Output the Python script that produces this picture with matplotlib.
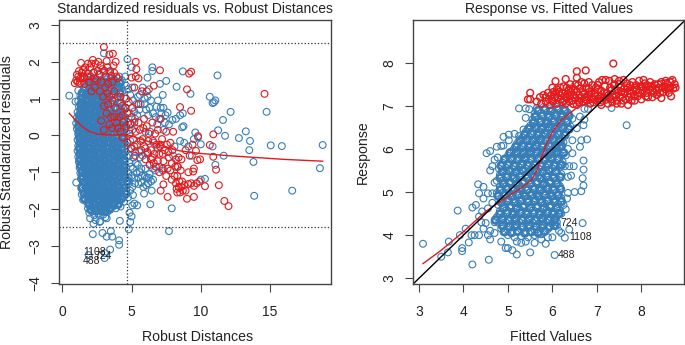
import numpy as np
import matplotlib
matplotlib.use('Agg')
import matplotlib.pyplot as plt

plt.rcParams['font.family'] = ['Liberation Sans', 'DejaVu Sans']

BLUE = '#377EB8'
RED = '#E41A1C'
EDGE = '#444444'

# left panel, points (the dense core is estimated)
left_blue = [
    (0.5,1.08),(1.0,-1.28),(18.8,-0.26),(18.6,-0.89),(16.6,-1.5),(15.85,-0.29),(15.05,-0.27),(14.75,0.64),
    (13.85,-1.64),(13.8,-0.72),(13.55,-0.15),(13.5,-0.4),(13.25,0.11),(12.75,-0.07),(11.75,-0.01),(11.65,-0.55),
    (12.15,0.64),(11.6,0.42),(11.25,0.14),(11.2,1.63),(11.05,0.95),(10.85,0.88),(10.95,0.9),(10.65,1.05),
    (11.05,-0.8),(10.85,-0.3),(10.3,-1.18),(10.0,-1.2),(10.0,-0.24),(9.6,0.08),(9.8,-0.05),(9.25,1.13),
    (8.7,1.74),(8.25,1.32),(8.75,0.25),(8.65,0.22),(8.5,0.55),(8.7,0.6),(7.9,-1.98),(7.7,-2.6),(7.5,1.48),
    (7.25,1.1),(7.05,1.4),(6.5,1.85),(6.5,1.75),(6.15,1.57),(6.35,-1.87),(5.9,-1.58),(5.4,-1.9),(5.2,-1.85),
    (5.05,-1.9),(4.8,-2.55),(4.85,-2.1),(4.9,-2.35),(5.0,-2.2),(4.15,-2.32),(4.1,-2.85),(4.1,-2.97),(3.5,-2.6),
    (3.6,-2.75),(3.2,-2.75),(2.9,-2.65),(2.2,-2.68),(3.45,-3.1),(3.1,-3.2),(3.05,-3.33),(1.9,-3.25),(2.25,-2.4),
    (2.7,-2.35),(3.2,-2.25),(4.7,2.07),(3.0,2.23),(5.0,1.85),
    (2.0,-2.25),(2.4,-2.3),(2.75,-2.33),(3.1,-2.22),(1.95,-2.1),(2.3,-2.17),(2.6,-2.12),(2.95,-2.15),(3.25,-2.08),
    (1.85,-1.98),(2.15,-1.93),(2.5,-1.99),(2.85,-1.94),(3.15,-1.97),(3.5,-1.95),(3.85,-1.98),(4.2,-1.93),
    (1.5,-1.75),(1.8,-1.82),(2.1,-1.78),(2.45,-1.81),(2.8,-1.77),(3.1,-1.83),(3.4,-1.78),(3.75,-1.82),(4.1,-1.77),(4.45,-1.8),
    (1.4,-1.6),(1.75,-1.66),(2.05,-1.62),(2.4,-1.67),(2.7,-1.63),(3.05,-1.65),(3.35,-1.61),(3.7,-1.66),(4.0,-1.62),(4.35,-1.64),(4.75,-1.68),
    (1.55,-1.48),(1.9,-1.5),(2.2,-1.46),(2.55,-1.52),(2.85,-1.47),(3.2,-1.5),(3.55,-1.46),(3.9,-1.52),(4.25,-1.47),(4.6,-1.5),
    (1.35,-1.18),(1.7,-1.35),(2.0,-1.33),(2.35,-1.36),(2.65,-1.32),(3.0,-1.35),(3.35,-1.31),(3.7,-1.36),(4.05,-1.33),(4.4,-1.36),(4.8,-1.3),
    (1.5,-1.2),(1.85,-1.18),(2.15,-1.21),(2.5,-1.17),(2.8,-1.2),(3.15,-1.16),(3.5,-1.21),(3.85,-1.18),(4.2,-1.2),(4.55,-1.16),
    (1.3,-1.02),(1.65,-1.05),(1.95,-1.03),(2.3,-1.06),(2.6,-1.02),(2.95,-1.05),(3.3,-1.01),(3.65,-1.06),(4.0,-1.03),(4.35,-1.05),(4.75,-1.02),
    (1.25,-0.88),(1.55,-0.9),(1.85,-0.87),(2.2,-0.91),(2.5,-0.88),(2.85,-0.9),(3.2,-0.86),(3.55,-0.91),(3.9,-0.88),(4.25,-0.9),(4.6,-0.87),
    (1.2,-0.72),(1.45,-0.75),(1.75,-0.73),(2.1,-0.76),(2.4,-0.72),(2.75,-0.75),(3.1,-0.71),(3.45,-0.76),(3.8,-0.73),(4.15,-0.75),(4.5,-0.72),
    (1.15,-0.58),(1.5,-0.6),(1.85,-0.57),(2.2,-0.61),(2.55,-0.58),(2.9,-0.6),(3.25,-0.56),(3.6,-0.61),(3.95,-0.58),(4.3,-0.6),(4.65,-0.57),
    (1.1,-0.42),(1.4,-0.45),(1.7,-0.43),(2.05,-0.46),(2.35,-0.42),(2.7,-0.45),(3.05,-0.41),(3.4,-0.46),(3.75,-0.43),(4.1,-0.45),(4.45,-0.42),
    (1.15,-0.28),(1.5,-0.3),(1.85,-0.27),(2.2,-0.31),(2.55,-0.28),(2.9,-0.3),(3.25,-0.26),(3.6,-0.31),(3.95,-0.28),(4.3,-0.3),(4.65,-0.27),
    (1.1,-0.12),(1.4,-0.15),(1.7,-0.13),(2.05,-0.16),(2.35,-0.12),(2.7,-0.15),(3.05,-0.11),(3.4,-0.16),(3.75,-0.13),(4.1,-0.15),(4.45,-0.12),
    (1.15,0.03),(1.5,0.0),(1.85,0.04),(2.2,-0.01),(2.55,0.02),(2.9,0.0),(3.25,0.05),(3.6,-0.01),(3.95,0.02),(4.3,0.0),
    (1.05,0.18),(1.35,0.15),(1.7,0.17),(2.05,0.14),(2.4,0.18),(2.75,0.15),(3.1,0.19),(3.45,0.14),(3.8,0.17),(4.15,0.15),(4.5,0.18),
    (1.0,0.33),(1.3,0.3),(1.6,0.32),(1.95,0.29),(2.3,0.33),(2.65,0.3),(3.0,0.34),(3.35,0.29),(3.7,0.32),(4.05,0.3),
    (1.05,0.48),(1.4,0.45),(1.75,0.47),(2.1,0.44),(2.45,0.48),(2.8,0.45),(3.15,0.49),(3.85,0.47),(4.25,0.45),
    (1.1,0.63),(1.45,0.6),(1.8,0.62),(2.15,0.59),(2.5,0.63),(2.85,0.6),(3.2,0.64),(3.6,0.6),(4.0,0.62),
    (0.95,0.92),(1.2,0.78),(1.55,0.75),(1.9,0.77),(2.25,0.74),(2.6,0.78),(2.95,0.75),(3.7,0.72),(4.4,0.75),
    (1.15,0.93),(1.5,0.9),(1.85,0.92),(2.2,0.89),(2.55,0.93),(2.9,0.9),(3.3,0.92),(4.0,0.9),
    (1.15,1.22),(1.3,1.08),(1.65,1.05),(2.0,1.07),(2.35,1.04),(2.7,1.08),(3.05,1.05),(3.75,1.1),(4.35,1.2),
    (1.6,1.22),(1.95,1.2),(2.3,1.22),(2.65,1.19),(3.0,1.22),(3.35,1.2),(3.85,1.25),(4.25,1.3),(4.6,1.35),
    (1.8,1.37),(2.15,1.35),(2.5,1.37),(2.85,1.34),(3.2,1.37),(3.55,1.35),(3.9,1.42),(4.3,1.5),(4.55,1.6),
    (1.75,1.52),(2.1,1.5),(2.45,1.53),(2.8,1.5),(3.15,1.52),(3.5,1.55),(4.1,1.6),
    (1.9,1.68),(2.3,1.72),(2.65,1.67),(3.0,1.7),(3.4,1.72),
    (4.75,1.25),(4.85,0.6),(4.8,0.15),(4.9,-0.15),(4.85,-0.55),(4.95,-0.85),(5.0,-1.1),(4.9,-1.5),(5.1,-1.62),
    (5.1,0.95),(5.2,0.65),(5.25,-0.45),(5.3,-0.75),(5.35,-1.02),(5.25,-1.3),(5.5,-1.32),(5.45,1.05),(5.65,0.85),
    (5.6,-0.6),(5.7,-0.9),(5.75,-1.1),(5.85,-1.4),(5.95,1.0),(6.05,0.7),(5.9,-0.3),(6.0,-0.9),(6.1,-1.15),
    (6.2,-1.3),(6.3,-1.05),(6.4,-1.25),(6.45,-1.5),(6.25,1.25),(6.4,0.95),(6.55,0.6),(6.35,0.1),(6.6,-0.2),
    (6.55,-0.9),(6.8,0.78),(7.1,0.75),(6.85,0.3),(7.15,0.6),(7.4,0.35),(7.6,0.62),(7.0,-0.85),(7.25,-0.95),
    (6.9,-0.35),(7.3,0.15),(7.7,0.3),(7.95,0.42),(8.2,0.45),(8.1,-0.3),(8.3,-0.85),(8.5,-0.15),(8.8,-0.2),
    (9.1,-0.3),(9.35,-0.55),(9.5,-0.1),(8.0,-0.55),
]

# second pass over the solid part of the blue cloud
left_blue_core = [
    (2.08,-2.02),(2.42,-2.05),(2.78,-2.03),(3.08,-2.06),(3.42,-2.0),
    (1.95,-1.88),(2.32,-1.87),(2.66,-1.9),(3.0,-1.88),(3.32,-1.86),(3.68,-1.9),(4.02,-1.87),
    (1.62,-1.72),(1.95,-1.73),(2.28,-1.7),(2.62,-1.74),(2.95,-1.71),(3.25,-1.73),(3.58,-1.7),(3.92,-1.73),(4.28,-1.71),
    (1.58,-1.57),(1.88,-1.56),(2.22,-1.58),(2.56,-1.55),(2.88,-1.58),(3.22,-1.56),(3.52,-1.58),(3.86,-1.55),(4.18,-1.57),(4.55,-1.58),
    (1.42,-1.43),(1.75,-1.42),(2.08,-1.41),(2.38,-1.44),(2.72,-1.41),(3.02,-1.43),(3.38,-1.4),(3.72,-1.44),(4.08,-1.41),(4.42,-1.43),
    (1.6,-1.27),(1.92,-1.26),(2.25,-1.28),(2.58,-1.25),(2.92,-1.27),(3.25,-1.24),(3.6,-1.28),(3.95,-1.26),(4.3,-1.27),(4.68,-1.24),
    (1.45,-1.12),(1.78,-1.11),(2.08,-1.13),(2.42,-1.1),(2.72,-1.13),(3.08,-1.09),(3.42,-1.13),(3.78,-1.1),(4.12,-1.12),(4.45,-1.1),
    (1.42,-0.96),(1.72,-0.97),(2.05,-0.95),(2.38,-0.98),(2.72,-0.95),(3.05,-0.97),(3.38,-0.94),(3.72,-0.97),(4.08,-0.95),(4.42,-0.97),
    (1.32,-0.81),(1.62,-0.82),(1.95,-0.8),(2.32,-0.83),(2.65,-0.8),(3.0,-0.82),(3.35,-0.79),(3.68,-0.83),(4.02,-0.8),(4.4,-0.82),
    (1.3,-0.66),(1.62,-0.67),(2.0,-0.65),(2.35,-0.68),(2.68,-0.65),(3.02,-0.67),(3.38,-0.64),(3.75,-0.68),(4.08,-0.65),(4.42,-0.67),
    (1.28,-0.5),(1.62,-0.52),(1.98,-0.49),(2.3,-0.53),(2.68,-0.5),(3.02,-0.52),(3.35,-0.48),(3.72,-0.52),(4.05,-0.5),(4.38,-0.52),
    (1.25,-0.35),(1.55,-0.37),(1.88,-0.35),(2.22,-0.38),(2.52,-0.35),(2.88,-0.37),(3.22,-0.34),(3.58,-0.38),(3.92,-0.35),(4.28,-0.37),
    (1.28,-0.2),(1.6,-0.22),(1.95,-0.2),(2.3,-0.23),(2.65,-0.2),(3.0,-0.22),(3.35,-0.19),(3.7,-0.23),(4.02,-0.2),(4.38,-0.22),
    (1.25,-0.05),(1.58,-0.07),(1.92,-0.05),(2.25,-0.08),(2.58,-0.05),(2.92,-0.07),(3.28,-0.04),(3.6,-0.08),(3.95,-0.05),(4.32,-0.07),
    (1.22,0.1),(1.55,0.08),(1.88,0.1),(2.22,0.07),(2.58,0.1),(2.92,0.08),(3.28,0.11),(3.62,0.07),(3.98,0.1),(4.32,0.08),
    (1.18,0.25),(1.5,0.23),(1.85,0.25),(2.18,0.22),(2.52,0.25),(2.88,0.23),(3.22,0.26),(3.55,0.22),(3.9,0.25),(4.25,0.23),
    (1.2,0.4),(1.55,0.38),(1.88,0.4),(2.22,0.37),(2.58,0.4),(2.92,0.38),(3.28,0.41),(3.62,0.4),(4.02,0.39),(4.4,0.42),
    (1.25,0.55),(1.6,0.53),(1.95,0.55),(2.3,0.52),(2.65,0.55),(3.0,0.53),(3.35,0.56),(3.75,0.54),(4.12,0.56),
    (1.35,0.7),(1.65,0.68),(2.02,0.7),(2.38,0.67),(2.72,0.7),(3.05,0.68),(3.45,0.71),(3.9,0.72),(4.25,0.65),
    (1.35,0.85),(1.7,0.83),(2.05,0.85),(2.4,0.82),(2.75,0.85),(3.1,0.83),(3.52,0.86),(4.2,0.88),
    (1.42,1.0),(1.8,0.98),(2.15,1.0),(2.5,0.97),(2.85,1.0),(3.2,0.98),(3.6,1.12),(4.15,1.15),
    (1.45,1.15),(1.78,1.13),(2.12,1.15),(2.48,1.12),(2.82,1.15),(3.18,1.13),(3.55,1.25),(4.05,1.3),
    (1.62,1.3),(1.98,1.28),(2.32,1.3),(2.68,1.27),(3.02,1.3),(3.4,1.28),(3.72,1.4),(4.15,1.42),
    (1.98,1.44),(2.32,1.46),(2.68,1.43),(3.02,1.45),(3.38,1.44),(3.72,1.5),
]

# thinner part to the right of the cut-off line
left_blue_mid = [
    (4.75,0.35),(4.95,0.3),(5.05,0.15),(5.0,-0.35),(5.15,-0.6),(4.85,-0.75),(5.1,-0.9),(4.8,-1.15),(5.2,-1.15),(5.05,-1.4),
    (5.25,0.45),(5.4,0.55),(5.55,0.7),(5.35,0.85),(5.55,-0.45),(5.45,-0.8),(5.6,-1.0),(5.5,-1.15),(5.7,-1.28),(5.95,-1.1),
    (4.9,1.1),(5.05,1.3),(5.6,1.1),(5.8,1.3),(5.95,0.85),(6.15,1.05),(6.3,0.75),(6.2,0.55),(6.0,0.1),(5.8,-0.55),
    (6.15,-0.5),(6.25,-1.15),(6.05,-1.35),(6.55,-1.2),(6.7,-0.95),(6.75,0.5),(6.9,0.95),(7.0,0.45),(7.3,0.75),(7.45,0.55),
]

left_red = [
    (0.9,1.42),(1.0,1.5),(1.1,1.45),(1.15,1.6),(1.2,1.75),(1.3,1.55),(1.35,1.97),(1.4,1.7),(1.5,1.78),(1.55,1.6),
    (1.6,1.4),(1.7,1.72),(1.9,1.45),(2.0,1.85),(2.1,1.95),(2.2,2.05),(2.25,1.7),(2.4,1.95),(2.5,1.5),(2.6,2.0),
    (2.7,1.65),(2.8,1.45),(2.9,1.8),(3.0,2.4),(3.05,1.75),(3.2,2.02),(3.25,1.85),(3.3,1.4),(3.4,2.2),(3.55,1.62),
    (3.65,2.22),(3.7,1.9),(3.85,2.0),(3.9,1.6),(4.0,1.55),(2.1,1.2),(2.7,1.2),(3.1,1.3),(3.4,1.05),(3.6,1.45),
    (3.0,0.8),(3.2,0.6),(3.3,0.85),(3.5,0.5),(3.6,0.95),(3.8,0.75),(4.0,1.05),(4.2,1.05),(4.1,0.5),(4.3,0.8),
    (4.4,0.35),(4.6,1.0),(4.7,0.6),(4.8,0.9),(2.8,0.4),(3.0,0.15),(3.6,0.2),(3.9,0.35),(4.2,0.1),(4.6,0.25),
    (4.85,0.05),(4.7,-0.2),(5.0,0.5),(5.2,0.35),(5.3,0.1),(5.1,-0.1),(5.4,-0.25),(5.6,0.15),(5.8,-0.1),(5.9,0.45),
    (6.1,0.25),(6.2,-0.15),(6.4,-0.4),(6.5,0.35),(6.7,0.05),(6.8,-0.25),(7.0,-0.5),(7.1,0.45),(7.2,-0.1),(7.3,-0.7),
    (7.4,-0.4),(7.5,0.1),(7.6,-0.9),(7.7,-0.6),(7.8,-0.2),(7.9,-0.75),(8.0,0.1),(8.2,-0.65),(8.3,-1.1),(8.4,-0.6),
    (8.5,0.77),(8.6,-0.65),(8.9,-0.4),(9.2,-0.55),(9.3,0.67),(9.0,1.25),(9.3,1.73),(9.15,1.68),(7.05,1.77),(5.3,2.0),
    (5.35,1.8),(5.3,1.6),(5.5,1.55),(5.0,1.57),(5.2,1.3),(5.75,1.2),(6.1,1.2),(6.6,1.35),(5.5,0.85),(6.0,-0.65),
    (6.3,-0.8),(6.5,-0.6),(14.6,1.13),(12.0,-1.92),(11.7,-1.78),(11.3,-1.35),(11.1,-0.93),(10.9,0.03),(10.65,-0.26),
    (10.9,-0.58),(10.3,-1.38),(9.95,-0.65),(9.8,-0.02),(9.75,-0.67),(9.65,-0.42),(9.5,-0.9),(9.4,-0.25),(9.1,-1.0),
    (9.45,-0.98),(9.5,-1.67),(9.0,-1.72),(7.6,-1.67),(7.1,-1.5),(7.3,-1.33),(8.3,-1.55),(8.1,-1.1),(8.4,-1.4),
    (8.5,-1.55),(8.6,-1.4),(8.7,-1.5),(8.8,-1.35),(8.9,-1.5),(9.1,-1.32),(9.3,-1.3),(9.5,-1.37),(9.7,-1.3),(9.9,-1.25),
    (8.55,-0.95),(7.5,-1.1),(7.0,-1.0),(6.9,-0.7),(5.7,-0.4),(5.2,-0.3),(6.6,-0.75),(7.1,-0.25),(7.8,-0.95),(8.2,-1.3),
    (1.05,1.65),(1.25,1.42),(1.45,1.55),(1.65,1.85),(1.8,1.6),(1.85,1.95),(2.05,1.6),(2.35,1.55),(2.55,1.75),(2.75,1.9),
    (3.15,1.6),(3.45,1.75),(3.75,1.7),(2.35,1.3),(2.95,1.05),(3.25,1.15),(3.75,1.2),(4.35,0.55),(4.55,0.75),(3.4,0.3),
    (3.75,0.5),(4.0,0.2),(4.35,-0.05),(4.9,0.3),(5.05,0.75),(4.95,-0.35),(5.25,-0.55),(5.5,0.35),(5.65,-0.15),(5.85,0.2),
    (6.0,-0.35),(6.25,0.05),(6.55,-0.15),(6.65,-0.5),(6.9,0.15),(7.05,-0.3),(7.25,-0.5),(7.55,-0.25),(7.65,-0.45),(7.95,-0.4),
    (8.15,-0.85),(8.35,-0.85),(8.25,-1.45),(8.45,-1.25),(8.65,-1.25),(7.9,-1.2),(7.25,-0.9),(6.75,-0.85),(6.4,-0.65),(6.15,-0.45),
]

left_curve_x = [0.5, 1.0, 1.5, 2.0, 2.5, 3.0, 4.0, 4.7, 5.5, 6.5, 7.5, 8.5, 10.0, 12.0, 14.0, 16.0, 18.8]
left_curve_y = [0.6, 0.4, 0.22, 0.1, 0.04, 0.02, 0.01, 0.02, -0.08, -0.2, -0.31, -0.42, -0.49, -0.55, -0.6, -0.65, -0.7]

left_labels = ['1108', '724', '488']
left_label_x = [2.3, 2.95, 2.1]
left_label_y = [-3.17, -3.27, -3.41]

# right panel
right_blue = [
    (3.09,3.8),(3.5,3.5),(3.65,3.6),(3.67,3.85),(3.87,4.57),(3.97,3.63),(3.97,3.7),(3.92,4.0),(4.05,4.15),(4.12,3.83),
    (4.2,3.32),(4.2,4.64),(4.28,4.7),(4.18,4.0),(4.25,4.0),(4.35,4.0),(4.57,3.43),(6.05,3.54),(6.28,3.94),(6.38,4.13),
    (6.68,4.28),(6.3,4.6),(7.67,6.55),(7.33,6.95),(6.78,6.22),(6.65,6.2),(6.62,6.05),(6.7,5.73),(6.7,5.52),(6.68,5.32),
    (6.7,5.15),(6.65,5.02),(6.48,5.6),(6.45,5.9),(6.5,5.0),(6.42,5.38),(6.35,5.35),(6.38,5.6),(6.3,5.85),(6.28,5.6),
    (6.35,4.98),(6.33,4.85),(6.25,4.7),(6.2,4.5),(6.1,4.3),(6.15,4.1),(6.0,3.95),(5.9,3.95),(5.85,3.8),(5.5,3.6),(5.2,3.55),
    (5.1,3.65),(4.95,3.7),(5.0,3.7),(4.85,3.85),(4.6,3.9),(4.55,4.0),(4.45,4.15),(4.4,4.3),(4.35,4.43),(4.42,4.55),
    (4.55,4.62),(4.65,4.75),(4.45,4.85),(4.35,4.97),(4.33,5.18),(4.45,5.12),(4.55,4.97),(4.65,4.97),(4.7,5.22),(4.6,5.5),
    (4.65,5.6),(4.7,5.75),(4.77,5.8),(4.6,5.95),(4.52,5.9),(4.75,6.05),(4.85,6.07),(4.9,6.08),(4.9,6.28),(5.02,6.33),
    (5.15,6.35),(5.02,6.2),(5.25,6.3),(5.35,6.45),(5.25,6.94),(5.4,6.94),(5.48,6.92),(5.4,6.72),(6.7,6.55),(6.72,6.68),
    (6.62,6.75),(6.45,6.7),(6.8,6.93),(6.55,6.48),(6.45,6.2),(6.35,6.0),(6.72,6.93),(4.5,4.28),(4.6,4.1),(4.7,4.05),(4.7,4.3),
    (5.4,3.85),(5.3,3.82),(5.2,3.85),(5.6,3.82),(5.75,3.9),(6.2,4.05),(6.1,4.22),
    (5.0,4.0),(5.15,3.95),(5.3,3.98),(5.45,3.95),(5.6,4.0),(5.75,4.02),
    (4.85,4.15),(5.0,4.12),(5.15,4.17),(5.3,4.13),(5.45,4.16),(5.6,4.12),(5.75,4.17),(5.9,4.14),
    (4.8,4.28),(4.95,4.3),(5.1,4.27),(5.25,4.31),(5.4,4.28),(5.55,4.3),(5.7,4.27),(5.85,4.31),(6.0,4.28),
    (4.75,4.42),(4.9,4.44),(5.05,4.41),(5.2,4.45),(5.35,4.42),(5.5,4.44),(5.65,4.41),(5.8,4.45),(5.95,4.42),(6.1,4.44),
    (4.82,4.56),(4.97,4.58),(5.12,4.55),(5.27,4.59),(5.42,4.56),(5.57,4.58),(5.72,4.55),(5.87,4.59),(6.02,4.56),(6.17,4.58),
    (4.78,4.7),(4.93,4.72),(5.08,4.69),(5.23,4.73),(5.38,4.7),(5.53,4.72),(5.68,4.69),(5.83,4.73),(5.98,4.7),(6.13,4.72),
    (4.85,4.84),(5.0,4.86),(5.15,4.83),(5.3,4.87),(5.45,4.84),(5.6,4.86),(5.75,4.83),(5.9,4.87),(6.05,4.84),(6.2,4.86),
    (4.75,4.98),(4.9,5.0),(5.05,4.97),(5.2,5.01),(5.35,4.98),(5.5,5.0),(5.65,4.97),(5.8,5.01),(5.95,4.98),(6.1,5.0),
    (4.82,5.12),(4.97,5.14),(5.12,5.11),(5.27,5.15),(5.42,5.12),(5.57,5.14),(5.72,5.11),(5.87,5.15),(6.02,5.12),(6.17,5.14),
    (4.75,5.26),(4.9,5.28),(5.05,5.25),(5.2,5.29),(5.35,5.26),(5.5,5.28),(5.65,5.25),(5.8,5.29),(5.95,5.26),(6.1,5.28),
    (4.82,5.4),(4.97,5.42),(5.12,5.39),(5.27,5.43),(5.42,5.4),(5.57,5.42),(5.72,5.39),(5.87,5.43),(6.02,5.4),(6.2,5.42),
    (4.8,5.54),(4.95,5.56),(5.1,5.53),(5.25,5.57),(5.4,5.54),(5.55,5.56),(5.7,5.53),(5.85,5.57),(6.0,5.54),(6.15,5.56),
    (4.88,5.68),(5.03,5.7),(5.18,5.67),(5.33,5.71),(5.48,5.68),(5.63,5.7),(5.78,5.67),(5.93,5.71),(6.08,5.68),(6.23,5.7),
    (5.0,5.84),(5.15,5.86),(5.3,5.83),(5.45,5.87),(5.6,5.84),(5.75,5.86),(5.9,5.83),(6.05,5.87),(6.2,5.84),
    (5.12,5.98),(5.27,6.0),(5.42,5.97),(5.57,6.01),(5.72,5.98),(5.87,6.0),(6.02,5.97),(6.17,6.01),
    (5.2,6.12),(5.35,6.14),(5.5,6.11),(5.65,6.15),(5.8,6.12),(5.95,6.14),(6.1,6.11),(6.25,6.15),
    (5.32,6.26),(5.47,6.28),(5.62,6.25),(5.77,6.29),(5.92,6.26),(6.07,6.28),(6.22,6.25),
    (5.4,6.4),(5.55,6.42),(5.7,6.39),(5.85,6.43),(6.0,6.4),(6.15,6.42),(6.3,6.39),
    (5.5,6.54),(5.65,6.56),(5.8,6.53),(5.95,6.57),(6.1,6.54),(6.25,6.56),(6.4,6.53),
    (5.55,6.68),(5.7,6.7),(5.85,6.67),(6.0,6.71),(6.15,6.68),(6.3,6.7),
    (5.6,6.82),(5.75,6.84),(5.9,6.81),(6.05,6.85),(6.2,6.82),(6.35,6.84),
    (5.65,6.95),(5.8,6.97),(5.95,6.94),(6.1,6.98),(6.25,6.95),
]

# second pass over the solid part of the blue cloud
right_blue_core = [
    (4.92,4.08),(5.08,4.06),(5.22,4.09),(5.38,4.05),(5.52,4.08),(5.68,4.06),(5.82,4.09),
    (4.88,4.22),(5.03,4.2),(5.18,4.23),(5.33,4.2),(5.48,4.22),(5.63,4.2),(5.78,4.23),(5.93,4.2),(6.05,4.23),
    (4.72,4.35),(4.87,4.37),(5.02,4.34),(5.17,4.38),(5.32,4.35),(5.47,4.37),(5.62,4.34),(5.77,4.38),(5.92,4.35),(6.05,4.37),
    (4.82,4.49),(4.98,4.51),(5.12,4.48),(5.28,4.52),(5.43,4.49),(5.58,4.51),(5.72,4.48),(5.88,4.52),(6.02,4.49),(6.15,4.5),
    (4.9,4.63),(5.05,4.65),(5.2,4.62),(5.35,4.66),(5.5,4.63),(5.65,4.65),(5.8,4.62),(5.95,4.66),(6.1,4.63),
    (4.85,4.77),(5.0,4.79),(5.15,4.76),(5.3,4.8),(5.45,4.77),(5.6,4.79),(5.75,4.76),(5.9,4.8),(6.05,4.77),(6.2,4.78),
    (4.78,4.91),(4.93,4.93),(5.08,4.9),(5.23,4.94),(5.38,4.91),(5.53,4.93),(5.68,4.9),(5.83,4.94),(5.98,4.91),(6.13,4.93),
    (4.83,5.05),(4.98,5.07),(5.13,5.04),(5.28,5.08),(5.43,5.05),(5.58,5.07),(5.73,5.04),(5.88,5.08),(6.03,5.05),(6.18,5.07),
    (4.9,5.19),(5.05,5.21),(5.2,5.18),(5.35,5.22),(5.5,5.19),(5.65,5.21),(5.8,5.18),(5.95,5.22),(6.1,5.19),
    (4.83,5.33),(4.98,5.35),(5.13,5.32),(5.28,5.36),(5.43,5.33),(5.58,5.35),(5.73,5.32),(5.88,5.36),(6.03,5.33),(6.18,5.35),
    (4.88,5.47),(5.03,5.49),(5.18,5.46),(5.33,5.5),(5.48,5.47),(5.63,5.49),(5.78,5.46),(5.93,5.5),(6.08,5.47),
    (4.85,5.61),(5.0,5.63),(5.15,5.6),(5.3,5.64),(5.45,5.61),(5.6,5.63),(5.75,5.6),(5.9,5.64),(6.05,5.61),(6.2,5.63),
    (4.93,5.76),(5.08,5.78),(5.23,5.75),(5.38,5.79),(5.53,5.76),(5.68,5.78),(5.83,5.75),(5.98,5.79),(6.13,5.76),
    (5.05,5.91),(5.2,5.93),(5.35,5.9),(5.5,5.94),(5.65,5.91),(5.8,5.93),(5.95,5.9),(6.1,5.94),(6.25,5.91),
    (5.18,6.05),(5.33,6.07),(5.48,6.04),(5.63,6.08),(5.78,6.05),(5.93,6.07),(6.08,6.04),(6.2,6.08),
    (5.27,6.19),(5.42,6.21),(5.57,6.18),(5.72,6.22),(5.87,6.19),(6.02,6.21),(6.17,6.18),
    (5.38,6.33),(5.53,6.35),(5.68,6.32),(5.83,6.36),(5.98,6.33),(6.13,6.35),(6.28,6.32),
    (5.47,6.47),(5.62,6.49),(5.77,6.46),(5.92,6.5),(6.07,6.47),(6.22,6.49),(6.37,6.46),
    (5.58,6.61),(5.73,6.63),(5.88,6.6),(6.03,6.64),(6.18,6.61),(6.33,6.63),
    (5.62,6.75),(5.77,6.77),(5.92,6.74),(6.07,6.78),(6.22,6.75),(6.37,6.77),
    (5.68,6.89),(5.83,6.91),(5.98,6.88),(6.13,6.92),(6.28,6.89),
]

right_red = [
    (7.37,7.98),(6.55,7.8),(6.75,7.82),(5.5,7.3),(5.5,7.15),(5.45,7.15),(6.07,7.57),(6.3,7.62),(6.55,7.65),(7.7,7.02),
    (8.67,7.22),(8.77,7.42),(8.72,7.4),(7.1,7.02),(7.45,7.05),(7.55,7.05),(8.0,7.15),(8.25,7.2),(8.45,7.18),
    (5.72,7.2),(5.65,7.1),(5.75,7.05),(5.85,7.1),(5.95,7.02),(5.8,7.25),(5.9,7.3),(6.0,7.42),(6.05,7.2),(6.1,7.05),
    (6.15,7.32),(6.2,7.15),(6.25,7.45),(6.3,7.05),(6.35,7.28),(6.4,7.5),(6.45,7.12),(6.5,7.38),(6.55,7.02),(6.6,7.25),
    (6.65,7.55),(6.7,7.1),(6.75,7.4),(6.8,7.22),(6.85,7.05),(6.9,7.48),(6.95,7.3),(7.0,7.12),(7.05,7.55),(7.1,7.35),
    (7.15,7.2),(7.2,7.6),(7.25,7.05),(7.3,7.42),(7.35,7.25),(7.4,7.62),(7.45,7.12),(7.5,7.5),(7.55,7.32),(7.6,7.6),
    (7.65,7.15),(7.7,7.42),(7.75,7.28),(7.8,7.55),(7.85,7.12),(7.9,7.38),(7.95,7.58),(8.0,7.28),(8.05,7.6),(8.1,7.42),
    (8.15,7.2),(8.2,7.55),(8.25,7.35),(8.3,7.5),(8.35,7.25),(8.4,7.42),(8.45,7.55),(8.5,7.32),(8.55,7.58),(8.6,7.4),
    (8.65,7.55),(8.7,7.6),(8.75,7.5),
    (5.92,7.15),(6.02,7.32),(6.12,7.18),(6.22,7.3),(6.32,7.18),(6.42,7.32),(6.52,7.18),(6.62,7.4),(6.72,7.28),(6.82,7.4),
    (6.92,7.15),(7.02,7.38),(7.12,7.12),(7.22,7.3),(7.32,7.15),(7.42,7.38),(7.52,7.2),(7.62,7.4),(7.72,7.2),(7.82,7.35),
    (7.92,7.22),(8.02,7.45),(8.12,7.3),(8.22,7.45),(8.32,7.4),(8.42,7.3),(8.52,7.45),(8.62,7.3),
    (6.02,7.1),(6.18,7.42),(6.28,7.22),(6.38,7.1),(6.48,7.25),(6.58,7.12),(6.68,7.32),(6.78,7.12),(6.88,7.28),(6.98,7.42),
    (7.08,7.22),(7.18,7.45),(7.28,7.18),(7.38,7.48),(7.48,7.3),(7.58,7.2),(7.68,7.52),(7.78,7.12),(7.88,7.48),
    (6.72,7.52),(6.42,7.4),(6.58,7.48),(6.82,7.55),(7.02,7.48),(7.28,7.58),(7.12,7.6),(7.98,7.45),(8.08,7.52),(8.18,7.38),
    (5.85,7.2),(5.97,7.24),(6.08,7.28),(6.18,7.24),(6.27,7.12),(6.37,7.38),(6.47,7.04),(6.55,7.32),(6.63,7.18),(6.73,7.2),
    (6.83,7.32),(6.92,7.08),(6.97,7.22),(7.05,7.16),(7.17,7.3),(7.25,7.24),(7.33,7.36),(7.43,7.24),(7.53,7.42),(7.63,7.3),
    (7.73,7.35),(7.83,7.22),(7.93,7.3),(8.03,7.36),(8.13,7.48),(8.28,7.3),(8.38,7.5),(8.48,7.42),(8.58,7.5),(8.1,7.22),
    (6.32,7.42),(6.52,7.5),(6.75,7.15),(6.88,7.18),(7.08,7.08),(7.35,7.08),(7.6,7.12),(7.4,7.5),(7.5,7.58),(7.75,7.48),
    (6.1,7.38),(6.0,7.12),(6.22,7.08),(6.4,7.22),(6.6,7.08),(7.2,7.14),(7.85,7.42),(8.35,7.35),(8.55,7.38),(8.65,7.42),
]

right_curve_x = [3.09, 3.5, 4.0, 4.5, 5.0, 5.3, 5.53, 5.65, 5.76, 5.88, 5.98, 6.2, 6.58, 7.33, 8.0, 8.72]
right_curve_y = [3.34, 3.65, 4.08, 4.55, 4.9, 5.1, 5.28, 5.5, 5.82, 6.15, 6.36, 6.67, 6.98, 7.25, 7.48, 7.64]

right_labels = ['724', '1108', '488']
right_label_x = [6.19, 6.38, 6.13]
right_label_y = [4.29, 3.95, 3.55]


def panel(px, lims, xticks, yticks, title, xlabel, ylabel):
    # px is left, right, top, bottom of the frame in pixels of the 685x345 image
    ax = fig.add_axes([px[0] / W, 1 - px[3] / H, (px[1] - px[0]) / W, (px[3] - px[2]) / H])
    ax.set_xlim(lims[0], lims[1])
    ax.set_ylim(lims[2], lims[3])
    ax.set_xticks(xticks)
    ax.set_yticks(yticks)
    ax.set_yticklabels([str(v).replace('-', '\u2212') for v in yticks], rotation=90, va='center')
    ax.tick_params(axis='x', length=6, width=0.8, color=EDGE, labelsize=10, pad=9, labelcolor='#222222')
    ax.tick_params(axis='y', length=6, width=0.8, color=EDGE, labelsize=10, pad=6, labelcolor='#222222')
    for s in ax.spines.values():
        s.set_color(EDGE)
        s.set_linewidth(1.0)
    ax.set_title(title, fontsize=10, color='#222222', pad=5)
    ax.set_xlabel(xlabel, fontsize=10.2, color='#222222')
    ax.set_ylabel(ylabel, fontsize=10.2, color='#222222')
    return ax


def circles(ax, pts, color, lw=0.8):
    arr = np.array(pts)
    ax.scatter(arr[:, 0], arr[:, 1], s=24, facecolors='none', edgecolors=color, linewidths=lw)


W, H = 685, 345
fig = plt.figure(figsize=(W / 100, H / 100), dpi=100)

ax1 = panel((59.3, 331, 20, 284), (-0.22, 19.4, -4.035, 3.135), [0, 5, 10, 15], [-4, -3, -2, -1, 0, 1, 2, 3],
            'Standardized residuals vs. Robust Distances', 'Robust Distances', 'Robust Standardized residuals')
circles(ax1, left_blue, BLUE)
circles(ax1, left_blue_core, BLUE, lw=2.0)
circles(ax1, left_blue_mid, BLUE)
circles(ax1, left_red, RED)
ax1.plot(left_curve_x, left_curve_y, color=RED, lw=1.0)
ax1.axhline(2.5, color='#333333', ls=':', lw=0.9)
ax1.axhline(-2.5, color='#333333', ls=':', lw=0.9)
ax1.axvline(4.65, color='#333333', ls=':', lw=0.9)
for t, x, y in zip(left_labels, left_label_x, left_label_y):
    ax1.text(x, y, t, fontsize=7.5, ha='center', va='center', color='#222222')
ax1.xaxis.set_label_coords(0.51, -0.174)
ax1.yaxis.set_label_coords(-0.168, 0.5)

ax2 = panel((413, 684.3, 20, 284.3), (2.865, 8.967, 2.86, 8.99), [3, 4, 5, 6, 7, 8], [3, 4, 5, 6, 7, 8],
            'Response vs. Fitted Values', 'Fitted Values', 'Response')
circles(ax2, right_blue, BLUE)
circles(ax2, right_blue_core, BLUE, lw=2.0)
circles(ax2, right_red, RED, lw=1.0)
ax2.plot(right_curve_x, right_curve_y, color=RED, lw=1.0)
ax2.plot([2.8, 9.0], [2.8, 9.0], color='black', lw=1.0)
ax2.set_xlim(2.865, 8.967)
ax2.set_ylim(2.86, 8.99)
for t, x, y in zip(right_labels, right_label_x, right_label_y):
    ax2.text(x, y, t, fontsize=7.5, ha='left', va='center', color='#222222')
ax2.xaxis.set_label_coords(0.507, -0.174)
ax2.yaxis.set_label_coords(-0.16, 0.5)

fig.savefig('out.png', dpi=100)
